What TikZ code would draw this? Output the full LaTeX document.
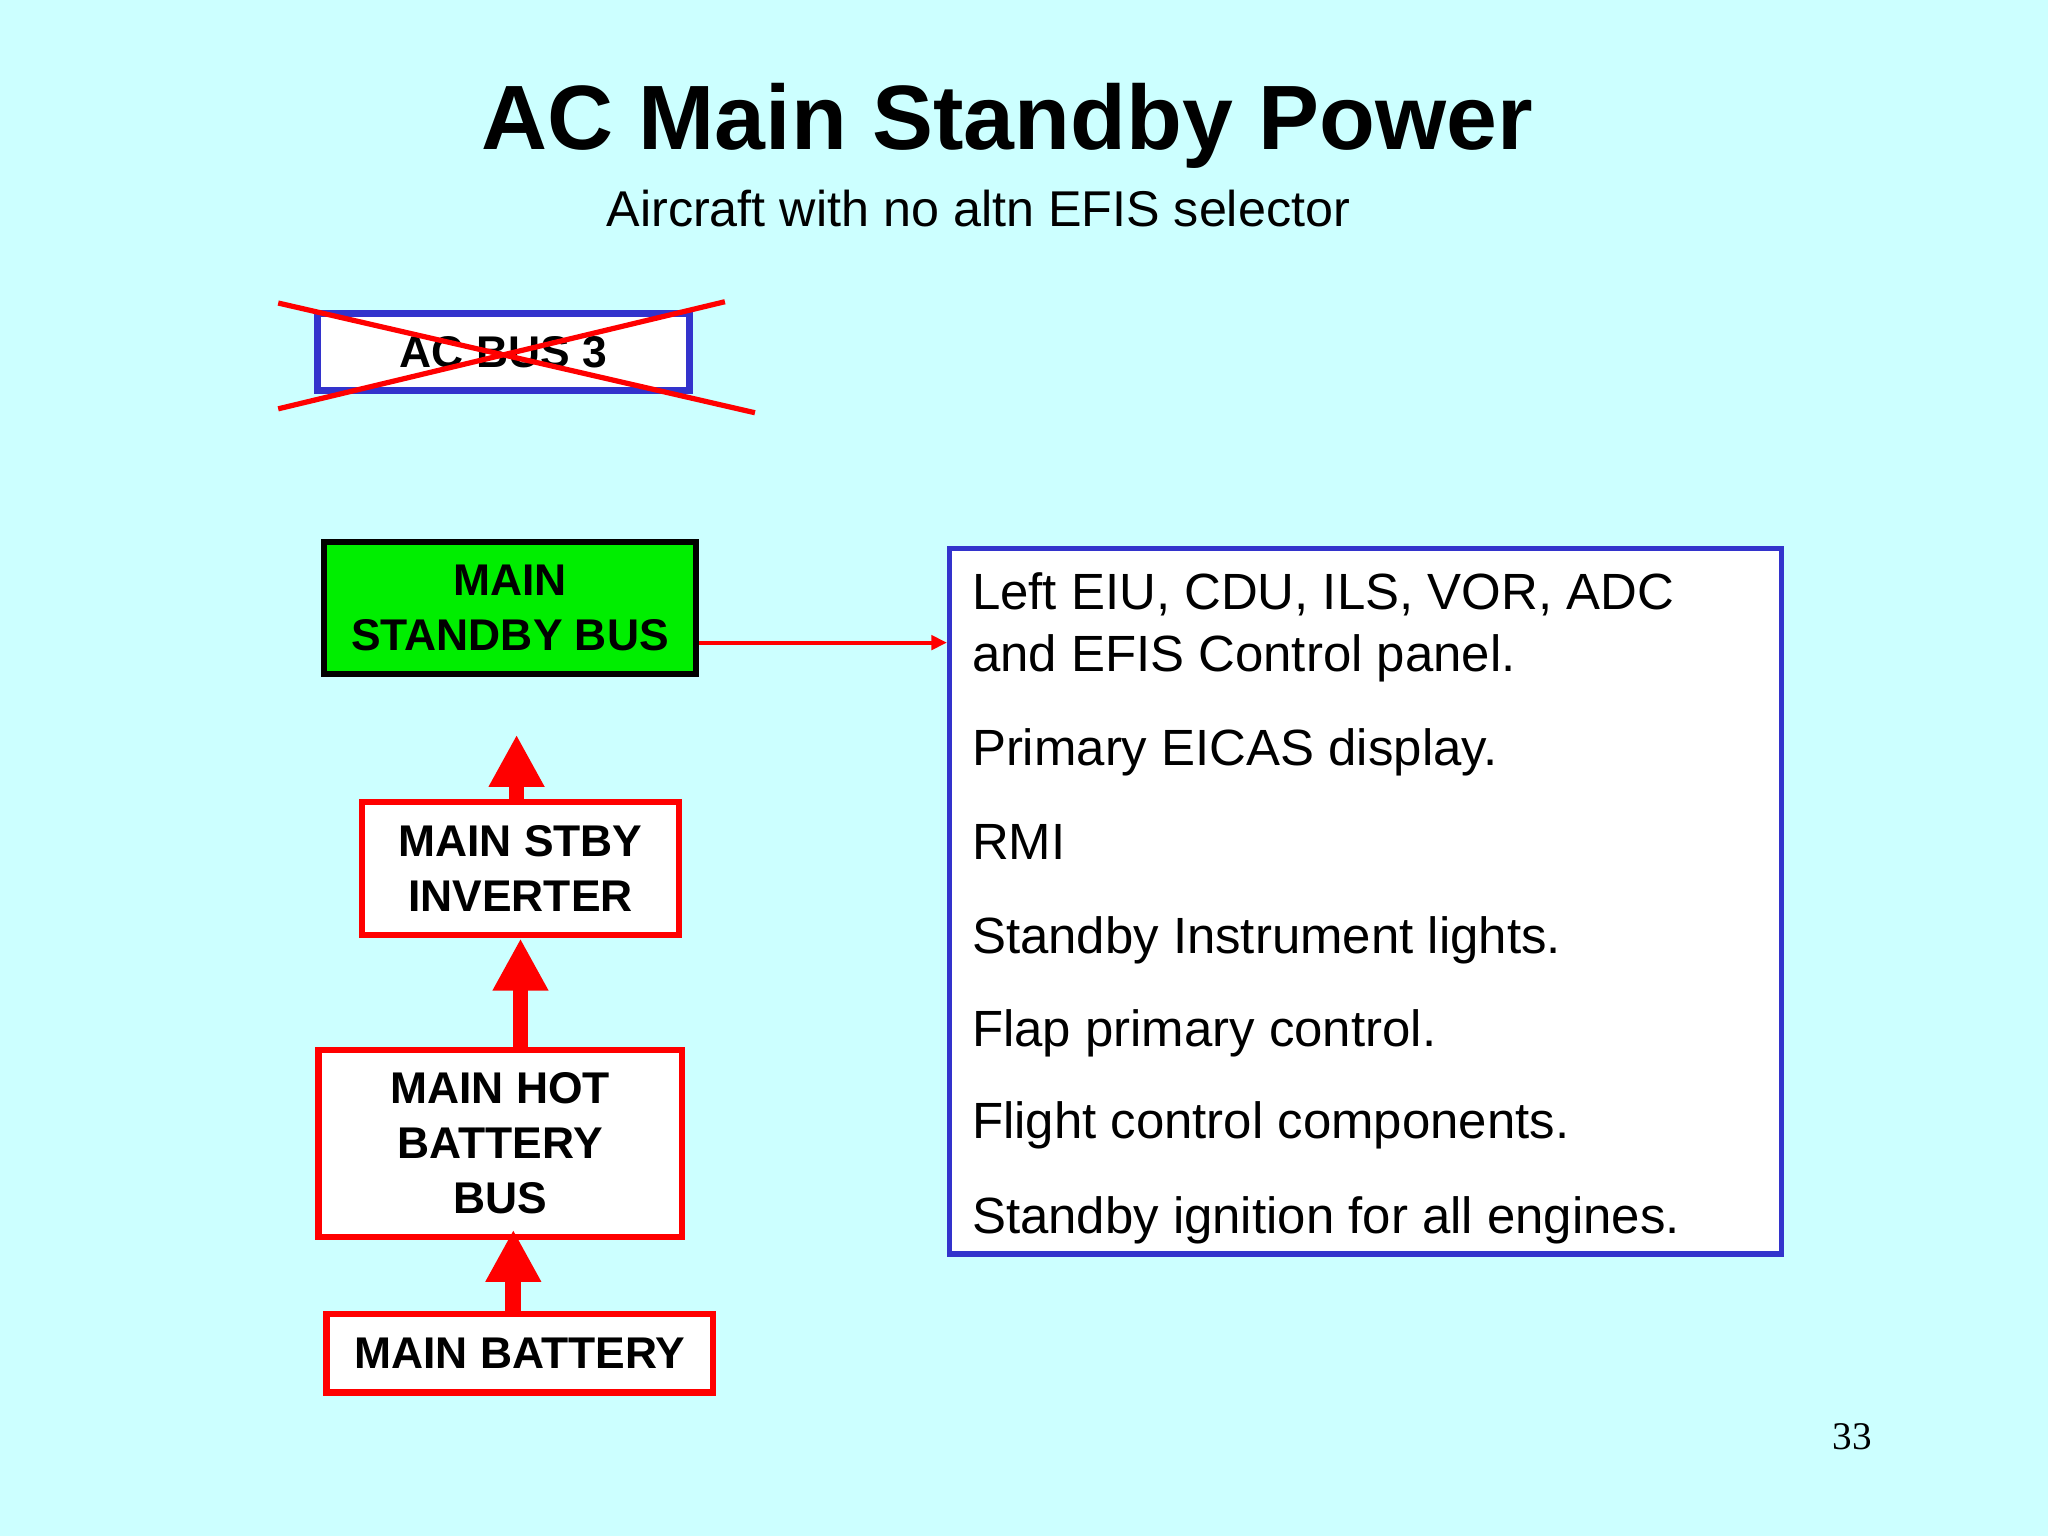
\documentclass[tikz,border=0pt]{standalone}
\usepackage{fontspec}
\setmainfont{Liberation Sans}
\usetikzlibrary{arrows.meta}
\definecolor{bg}{HTML}{CCFFFF}
\definecolor{bbl}{HTML}{3333CC}
\definecolor{rd}{HTML}{FF0000}
\definecolor{gr}{HTML}{00EE00}
\begin{document}
\begin{tikzpicture}[x=1pt,y=-1pt,
  box/.style={draw,line width=5pt,fill=white,inner sep=0pt,font=\fontsize{34}{42}\selectfont\bfseries,align=center},
  rbox/.style={box,draw=rd},
  item/.style={anchor=base west,inner sep=0pt,font=\fontsize{39}{46}\selectfont},
  blk/.style={draw=rd,line width=12pt,-{Triangle[width=40pt,length=40pt]},color=rd}]
\fill[bg] (0,0) rectangle (1568,1176);
\useasboundingbox (0,0) rectangle (1568,1176);
\node (title) at (771,96) {\fontsize{70}{76}\selectfont\bfseries AC Main Standby Power};
\node (sub) at (749,160) {\fontsize{38.5}{44}\selectfont Aircraft with no altn EFIS selector};
\node[box,draw=bbl,minimum width=285pt,minimum height=59pt] (ac) at (385.5,269.5) {AC BUS 3};
\draw[rd,line width=4pt] (213,232) -- (578,316) (213,313) -- (555,231);
\node[box,draw=black,fill=gr,minimum width=285pt,minimum height=101pt] (bus) at (390.5,465.5) {MAIN\\STANDBY BUS};
\node[rbox,minimum width=243pt,minimum height=102pt] (inv) at (398.5,665) {MAIN STBY\\INVERTER};
\node[rbox,minimum width=278pt,minimum height=143pt] (hot) at (383,875.5) {MAIN HOT\\BATTERY\\BUS};
\node[rbox,minimum width=296pt,minimum height=60pt] (bat) at (398,1036) {MAIN BATTERY};
\node[draw=bbl,line width=4pt,fill=white,minimum width=637pt,minimum height=540pt,inner sep=0pt] (list) at (1045.5,690) {};
\draw[blk] ([xshift=-3pt]inv.north) -- ([xshift=-3pt]inv.north |- bus.south) [shorten >=44pt];
\draw[blk] (hot.north -| inv.north) -- (inv.south);
\draw[blk,shorten >=-8pt] ([xshift=-5pt]bat.north) -- ([xshift=-5pt]bat.north |- hot.south);
\draw[rd,line width=3pt,-{Triangle[width=11pt,length=12pt]}] (bus.east |- 0,492) -- (list.west |- 0,492);
\node[item] (l1) at (744,467) {Left EIU, CDU, ILS, VOR, ADC};
\node[item] (l2) at (744,514) {and EFIS Control panel.};
\node[item] (l3) at (744,586) {Primary EICAS display.};
\node[item] (l4) at (744,658) {RMI};
\node[item] (l5) at (744,730) {Standby Instrument lights.};
\node[item] (l6) at (744,801) {Flap primary control.};
\node[item] (l7) at (744,872) {Flight control components.};
\node[item] (l8) at (744,944) {Standby ignition for all engines.};
\node[anchor=base,inner sep=0pt] (pg) at (1418,1110) {\fontspec{Liberation Serif}\fontsize{30}{34}\selectfont 33};
\end{tikzpicture}
\end{document}
